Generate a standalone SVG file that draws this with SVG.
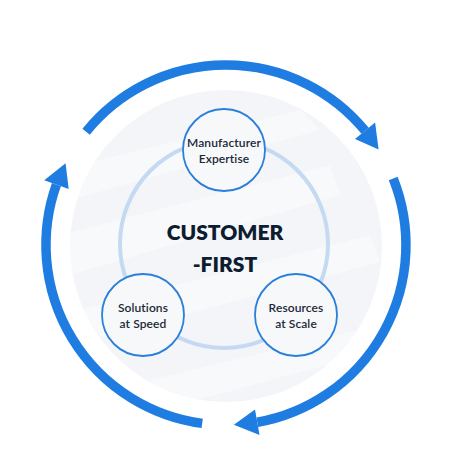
<svg xmlns="http://www.w3.org/2000/svg" width="474" height="466" viewBox="0 0 474 466">
  <defs>
    <style>
      .arc { fill: none; stroke: #1f7de2; stroke-width: 9.5; stroke-linecap: butt; }
      .head { fill: #1f7de2; }
      .node { fill: #f7f8fa; stroke: #2a7fd9; stroke-width: 1.8; }
      .label { font-family: "Lato", "Open Sans", sans-serif; font-weight: 600; font-size: 12px; letter-spacing: 0.1px; fill: #1a2838; text-anchor: middle; }
      .title { font-family: "Lato", "Open Sans", sans-serif; font-weight: 800; font-size: 21px; fill: #0e1c30; text-anchor: middle; }
      .band { fill: #ffffff; opacity: 0.4; }
    </style>
    <clipPath id="bgclip">
      <circle cx="226" cy="246" r="156"/>
    </clipPath>
  </defs>
  <rect x="0" y="0" width="474" height="466" fill="#ffffff"/>

  <g id="background">
    <circle cx="226" cy="246" r="156" fill="#f3f5f8"/>
    <g clip-path="url(#bgclip)">
      <polygon class="band" points="60,170 300,110 320,130 70,200"/>
      <polygon class="band" points="60,235 330,165 340,195 70,275"/>
      <polygon class="band" points="80,310 370,235 380,262 90,340"/>
      <polygon class="band" points="150,380 400,320 400,345 160,410"/>
    </g>
  </g>

  <g id="connectors">
    <circle cx="224" cy="244" r="104" fill="none" stroke="#c5daf2" stroke-width="4"/>
    <path class="arc" d="M 86.1 131.7 A 180 180 0 0 1 365.1 130.8"/>
    <polygon class="head" points="375.1,122.5 378.6,149.6 355.0,139.0"/>
    <path class="arc" d="M 393.2 178.5 A 180 180 0 0 1 257.3 422.3"/>
    <polygon class="head" points="259.5,435.1 233.9,424.8 255.0,409.5"/>
    <path class="arc" d="M 202.2 423.4 A 180 180 0 0 1 56.4 184.6"/>
    <polygon class="head" points="44.2,180.2 65.6,163.3 68.7,189.0"/>
  </g>

  <g id="center">
    <text class="title" x="225" y="240">CUSTOMER</text>
    <text class="title" x="225" y="272">-FIRST</text>
  </g>

  <g id="node-manufacturer">
    <circle class="node" cx="224" cy="150" r="41"/>
    <text class="label" x="224" y="147">Manufacturer</text>
    <text class="label" x="224" y="163">Expertise</text>
  </g>

  <g id="node-solutions">
    <circle class="node" cx="143" cy="315" r="41"/>
    <text class="label" x="143" y="312">Solutions</text>
    <text class="label" x="143" y="328">at Speed</text>
  </g>

  <g id="node-resources">
    <circle class="node" cx="296" cy="315" r="41"/>
    <text class="label" x="296" y="312">Resources</text>
    <text class="label" x="296" y="328">at Scale</text>
  </g>
</svg>
